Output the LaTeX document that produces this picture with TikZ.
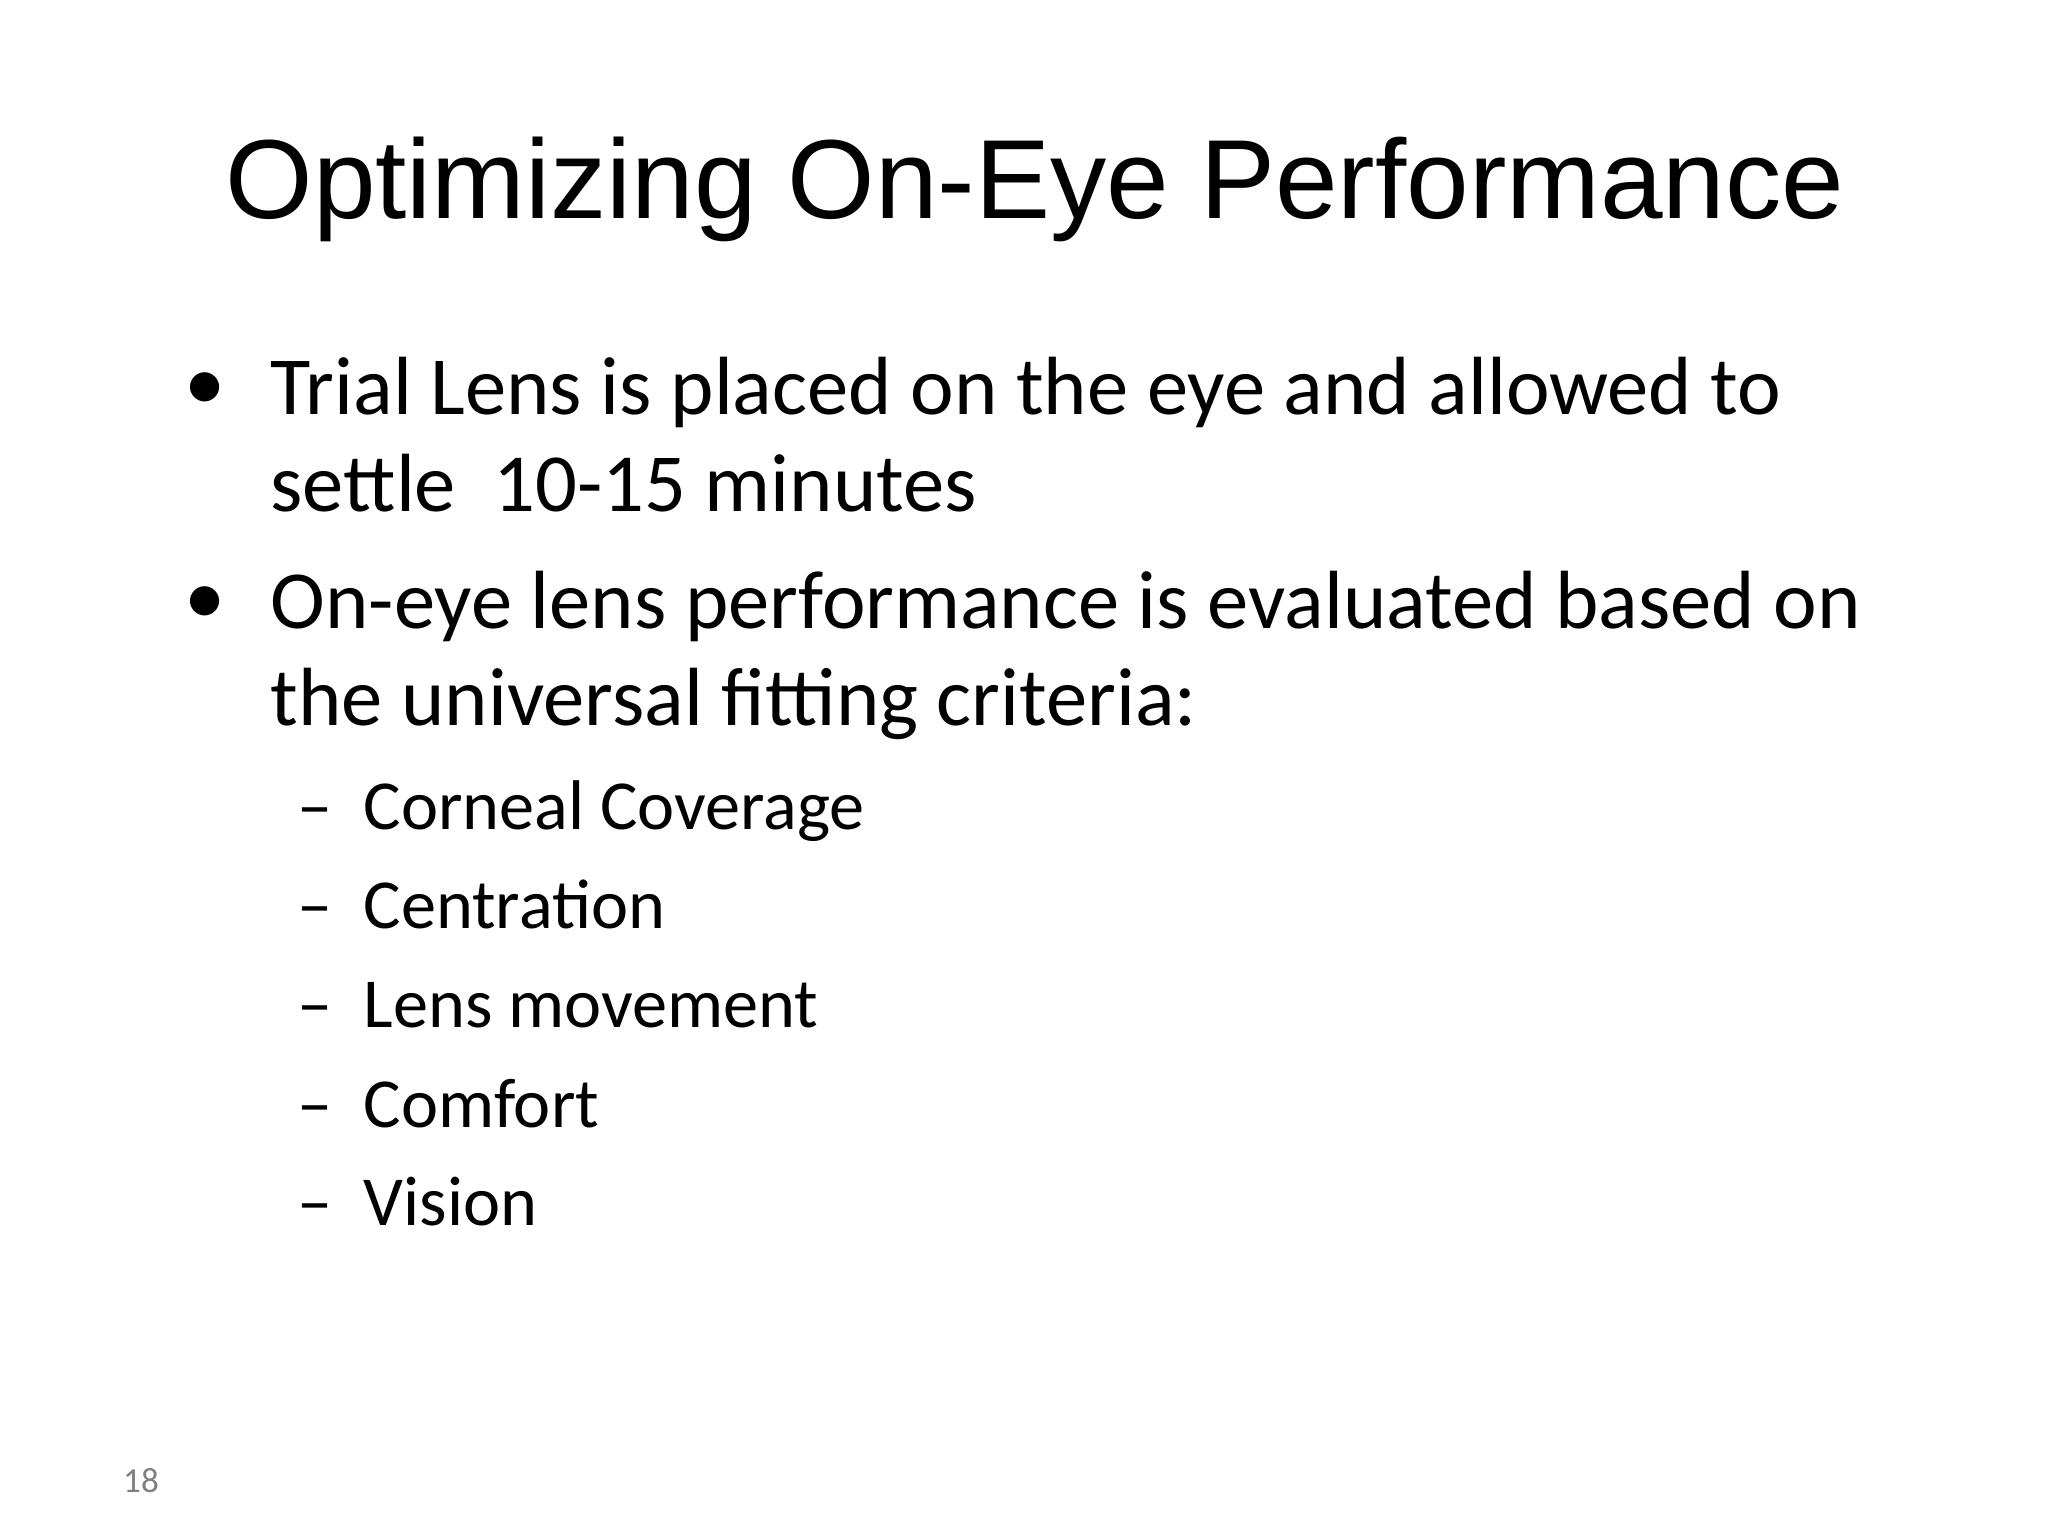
\documentclass[tikz,border=0pt]{standalone}
\usepackage{fontspec}
\setmainfont{Carlito}
\newfontfamily\titlefont{Liberation Sans}
\begin{document}
\begin{tikzpicture}[x=1cm,y=-1cm,
  body/.style={anchor=mid west,inner sep=0pt,font=\fontsize{23.5}{28}\selectfont},
  sub/.style={anchor=mid west,inner sep=0pt,font=\fontsize{20}{24}\selectfont},
  bul/.style={anchor=mid,inner sep=0pt,font=\fontsize{23.5}{28}\selectfont}]
\useasboundingbox[fill=white] (0,0) rectangle (20.48,15.36);
\node[inner sep=0pt,font=\titlefont\fontsize{32}{38}\selectfont] (title) at (10.35,1.89) {Optimizing On-Eye Performance};
\node[bul] (b1) at (2.05,4.02) {•};
\node[body] (t1) at (2.70,4.06) {Trial Lens is placed on the eye and allowed to};
\node[body] (t2) at (2.70,5.03) {settle\ \ 10-15 minutes};
\node[bul] (b2) at (2.05,6.16) {•};
\node[body] (t3) at (2.70,6.20) {On-eye lens performance is evaluated based on};
\node[body] (t4) at (2.70,7.17) {the universal fitting criteria:};
\foreach \n/\y/\t in {s1/8.21/Corneal Coverage, s2/9.20/Centration, s3/10.19/Lens movement, s4/11.19/Comfort, s5/12.17/Vision}{
  \node[sub] (d\n) at (2.97,\y) {–};
  \node[sub] (\n) at (3.63,\y) {\t};
}
\node[inner sep=0pt,text=gray,font=\fontsize{10}{12}\selectfont] (pg) at (1.41,14.81) {18};
\end{tikzpicture}
\end{document}
